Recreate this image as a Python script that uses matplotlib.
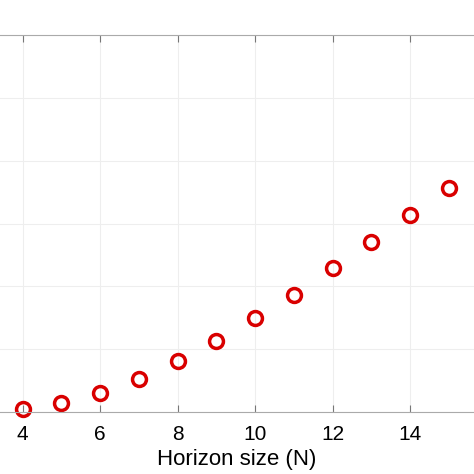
import matplotlib
matplotlib.use("Agg")
import matplotlib.pyplot as plt

plt.rcParams['font.family'] = ['Liberation Sans', 'DejaVu Sans']

horizon = [4, 5, 6, 7, 8, 9, 10, 11, 12, 13, 14, 15]
values = [0.05, 0.14, 0.30, 0.52, 0.81, 1.13, 1.49, 1.87, 2.29, 2.71, 3.14, 3.57]
xticks = [4, 6, 8, 10, 12, 14]

fig = plt.figure(figsize=(4.74, 4.74), dpi=100)
ax = fig.add_axes([0, 1 - 412 / 474, 1.0, (412 - 35) / 474])

ax.plot(horizon, values, 'o', markersize=10, markerfacecolor='none',
        markeredgecolor='#d90000', markeredgewidth=2.5, clip_on=False)

px = 38.75
x0 = 4 - 22.5 / px
ax.set_xlim(x0, x0 + 474 / px)
ax.set_ylim(0, 6)
ax.set_xticks(xticks)
ax.set_yticks(range(7))
ax.set_yticklabels([])
ax.tick_params(axis='x', direction='in', top=True, length=5, color='#777777',
               labelsize=15, pad=9)
ax.tick_params(axis='y', length=0)
ax.grid(True, color='#eeeeee', linewidth=0.8)
for s in ['left', 'right']:
    ax.spines[s].set_visible(False)
for s in ['top', 'bottom']:
    ax.spines[s].set_color('#aaaaaa')
ax.set_xlabel('Horizon size (N)', fontsize=16, labelpad=4)

fig.savefig('out.png', dpi=100)
